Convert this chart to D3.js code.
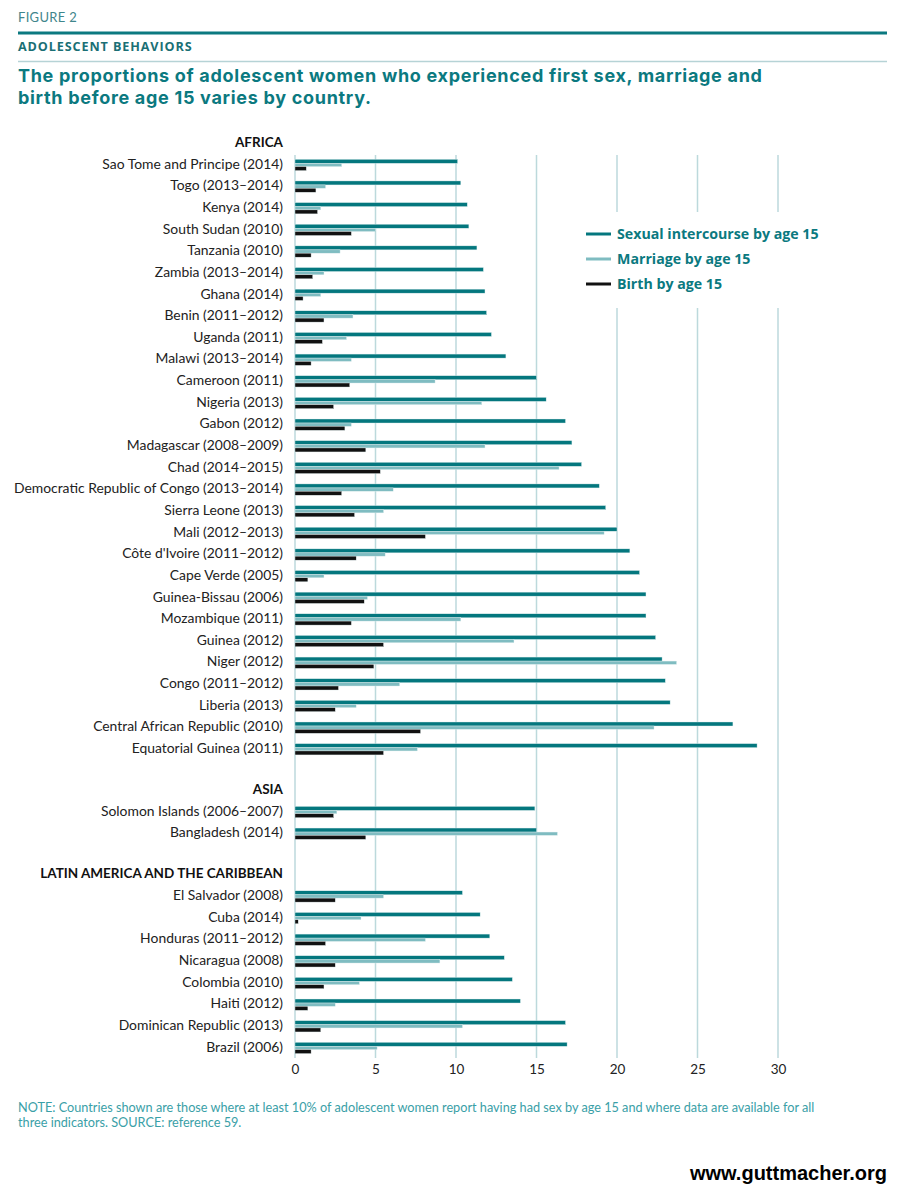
<!DOCTYPE html>
<html>
<head>
<meta charset="utf-8">
<script src="https://cdn.jsdelivr.net/npm/d3@7"></script>
<style>
  body { margin: 0; background: #fff; }
  text { font-family: Lato, "Open Sans", sans-serif; }
</style>
</head>
<body>
<svg id="chart" width="900" height="1190"></svg>
<script>
// Data (percent)
const groups = ["AFRICA", "ASIA", "LATIN AMERICA AND THE CARIBBEAN"];

const africaCountries = ["Sao Tome and Principe (2014)", "Togo (2013–2014)", "Kenya (2014)",
  "South Sudan (2010)", "Tanzania (2010)", "Zambia (2013–2014)", "Ghana (2014)",
  "Benin (2011–2012)", "Uganda (2011)", "Malawi (2013–2014)", "Cameroon (2011)",
  "Nigeria (2013)", "Gabon (2012)", "Madagascar (2008–2009)", "Chad (2014–2015)",
  "Democratic Republic of Congo (2013–2014)", "Sierra Leone (2013)", "Mali (2012–2013)",
  "Côte d'Ivoire (2011–2012)", "Cape Verde (2005)", "Guinea-Bissau (2006)",
  "Mozambique (2011)", "Guinea (2012)", "Niger (2012)", "Congo (2011–2012)",
  "Liberia (2013)", "Central African Republic (2010)", "Equatorial Guinea (2011)"];
const africaSex      = [10.1, 10.3, 10.7, 10.8, 11.3, 11.7, 11.8, 11.9, 12.2, 13.1, 15.0, 15.6, 16.8, 17.2,
  17.8, 18.9, 19.3, 20.0, 20.8, 21.4, 21.8, 21.8, 22.4, 22.8, 23.0, 23.3, 27.2, 28.7];
const africaMarriage = [2.9, 1.9, 1.6, 5.0, 2.8, 1.8, 1.6, 3.6, 3.2, 3.5, 8.7, 11.6, 3.5, 11.8,
  16.4, 6.1, 5.5, 19.2, 5.6, 1.8, 4.5, 10.3, 13.6, 23.7, 6.5, 3.8, 22.3, 7.6];
const africaBirth    = [0.7, 1.3, 1.4, 3.5, 1.0, 1.1, 0.5, 1.8, 1.7, 1.0, 3.4, 2.4, 3.1, 4.4,
  5.3, 2.9, 3.7, 8.1, 3.8, 0.8, 4.3, 3.5, 5.5, 4.9, 2.7, 2.5, 7.8, 5.5];

const asiaCountries = ["Solomon Islands (2006–2007)", "Bangladesh (2014)"];
const asiaSex      = [14.9, 15.0];
const asiaMarriage = [2.6, 16.3];
const asiaBirth    = [2.4, 4.4];

const latamCountries = ["El Salvador (2008)", "Cuba (2014)", "Honduras (2011–2012)",
  "Nicaragua (2008)", "Colombia (2010)", "Haiti (2012)", "Dominican Republic (2013)", "Brazil (2006)"];
const latamSex      = [10.4, 11.5, 12.1, 13.0, 13.5, 14.0, 16.8, 16.9];
const latamMarriage = [5.5, 4.1, 8.1, 9.0, 4.0, 2.5, 10.4, 5.1];
const latamBirth    = [2.5, 0.2, 1.9, 2.5, 1.8, 0.8, 1.6, 1.0];

const seriesNames = ["Sexual intercourse by age 15", "Marriage by age 15", "Birth by age 15"];
const xTicks = [0, 5, 10, 15, 20, 25, 30];

// Styling
const colors = ["#04777e", "#7fbcc1", "#111111"];
const teal = "#0b7980";
const gridColor = "#bcd9dc";

// Build rows: each group gets a header slot, groups separated by a blank slot (slightly tighter)
const groupData = [
  [africaCountries, africaSex, africaMarriage, africaBirth],
  [asiaCountries, asiaSex, asiaMarriage, asiaBirth],
  [latamCountries, latamSex, latamMarriage, latamBirth]
];
const rows = [], headers = [];
let idx = 0;
groupData.forEach(function(g, gi) {
  if (gi > 0) idx += 2.9;
  headers.push({name: groups[gi], idx: idx - 1});
  g[0].forEach(function(c, i) {
    rows.push({country: c, idx: idx, values: [g[1][i], g[2][i], g[3][i]]});
    if (i < g[0].length - 1) idx += 1;
  });
});

const svg = d3.select("#chart");

// Header block
svg.append("text").attr("x", 18).attr("y", 22)
  .style("font-size", "13px").style("fill", "#3f868c").style("letter-spacing", "0.3px")
  .text("FIGURE 2");
svg.append("line").attr("x1", 18).attr("x2", 887).attr("y1", 33).attr("y2", 33)
  .attr("stroke", teal).attr("stroke-width", 3);
svg.append("text").attr("x", 18).attr("y", 51)
  .style("font-family", "'Open Sans', sans-serif").style("letter-spacing", "0.9px")
  .style("font-size", "12.6px").style("font-weight", "bold").style("fill", "#1a6f75")
  .text("ADOLESCENT BEHAVIORS");
svg.append("line").attr("x1", 18).attr("x2", 887).attr("y1", 61.5).attr("y2", 61.5)
  .attr("stroke", "#b6d3d6").attr("stroke-width", 1.5);
const title = svg.append("text").attr("x", 18).attr("y", 82)
  .style("font-family", "Inter, 'Open Sans', sans-serif").style("letter-spacing", "0.7px")
  .style("font-size", "18px").style("font-weight", "bold").style("fill", teal);
title.append("tspan").attr("x", 18)
  .text("The proportions of adolescent women who experienced first sex, marriage and");
title.append("tspan").attr("x", 18).attr("dy", 22)
  .text("birth before age 15 varies by country.");

// Scales
const x = d3.scaleLinear().domain([0, 30]).range([295, 778]);
const lastIdx = rows[rows.length - 1].idx;
const y = d3.scaleLinear().domain([0, lastIdx]).range([165, 1048]);

// Gridlines
svg.append("g").selectAll("line")
  .data(xTicks)
  .enter().append("line")
    .attr("x1", d => x(d)).attr("x2", d => x(d))
    .attr("y1", 155).attr("y2", 1058)
    .attr("stroke", gridColor).attr("stroke-width", 1.5);

// Axis labels
svg.append("g")
  .attr("transform", "translate(0,1058)")
  .call(d3.axisBottom(x).tickValues(xTicks).tickSize(0).tickPadding(6))
  .call(g => g.select(".domain").remove())
  .selectAll("text")
    .style("font-family", "Lato, sans-serif")
    .style("font-size", "13.5px")
    .style("fill", "#222");

// Group headers
svg.append("g").selectAll("text")
  .data(headers)
  .enter().append("text")
    .attr("x", 283).attr("y", d => y(d.idx) + 3.5)
    .attr("text-anchor", "end")
    .style("font-size", "13.5px").style("font-weight", "bold").style("fill", "#111")
    .text(d => d.name);

// Country labels
svg.append("g").selectAll("text")
  .data(rows)
  .enter().append("text")
    .attr("x", 283).attr("y", d => y(d.idx) + 3.7)
    .attr("text-anchor", "end")
    .style("font-size", "13.9px").style("fill", "#222")
    .text(d => d.country);

// Bars: three thin bars per country
const barOffset = [-5.7, -1.7, 1.6];
const barHeight = [4, 3.3, 4];
const rowG = svg.append("g").selectAll("g")
  .data(rows)
  .enter().append("g");
rowG.selectAll("rect")
  .data(d => d.values.map((v, i) => ({v: v, i: i, c: y(d.idx)})))
  .enter().append("rect")
    .attr("x", x(0))
    .attr("y", d => d.c + barOffset[d.i])
    .attr("width", d => x(d.v) - x(0))
    .attr("height", d => barHeight[d.i])
    .attr("fill", d => colors[d.i])
    .attr("stroke", "#e3eff0").attr("stroke-width", 0.4);

// Legend, on a white panel that interrupts the gridlines
const legend = svg.append("g");
legend.append("rect").attr("x", 580).attr("y", 212).attr("width", 260).attr("height", 96)
  .attr("fill", "#fff");
const li = legend.selectAll("g.item")
  .data(seriesNames)
  .enter().append("g").attr("class", "item")
    .attr("transform", (d, i) => `translate(586,${234 + i * 25})`);
li.append("line").attr("x1", 0).attr("x2", 25)
  .attr("stroke", (d, i) => colors[i]).attr("stroke-width", 3);
li.append("text").attr("x", 31).attr("y", 5)
  .style("font-family", "'Open Sans', sans-serif")
  .style("font-size", "14.2px").style("font-weight", "bold").style("fill", teal)
  .text(d => d);

// Footnote
const note = svg.append("text").attr("x", 18).attr("y", 1112)
  .style("font-size", "12.7px").style("fill", "#3aa0a7");
note.append("tspan").text("NOTE: Countries shown are those where at least 10% of adolescent women report having had sex by age 15 and where data are available for all");
note.append("tspan").attr("x", 18).attr("dy", 14.5).text("three indicators. SOURCE: reference 59.");

svg.append("text").attr("x", 887).attr("y", 1180).attr("text-anchor", "end")
  .style("font-family", "'Liberation Sans', Arial, sans-serif")
  .style("font-size", "20px").style("font-weight", "bold").style("fill", "#000")
  .text("www.guttmacher.org");
</script>
</body>
</html>
